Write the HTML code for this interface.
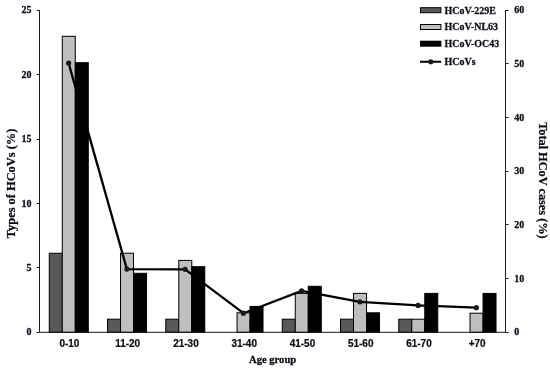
<!DOCTYPE html><html><head><meta charset="utf-8"><title>HCoVs by age group</title>
<style>html,body{margin:0;padding:0;background:#fff}svg{display:block}.s{font-family:"Liberation Serif",serif;font-weight:bold;fill:#0a0a14;stroke:#0a0a14;stroke-width:.25px}.a{font-family:"Liberation Sans",sans-serif;font-weight:bold;fill:#0a0a14;stroke:#0a0a14;stroke-width:.2px}</style></head><body>
<svg width="550" height="373" viewBox="0 0 550 373">
<rect width="550" height="373" fill="#fff"/>
<rect x="49.27" y="253.25" width="13.00" height="79.05" fill="#595959" stroke="#000" stroke-width="1"/>
<rect x="62.27" y="36.30" width="13.00" height="296.00" fill="#bfbfbf" stroke="#000" stroke-width="1"/>
<rect x="75.28" y="62.70" width="13.00" height="269.60" fill="#000" stroke="#000" stroke-width="1"/>
<rect x="107.53" y="319.20" width="13.00" height="13.10" fill="#595959" stroke="#000" stroke-width="1"/>
<rect x="120.53" y="253.20" width="13.00" height="79.10" fill="#bfbfbf" stroke="#000" stroke-width="1"/>
<rect x="133.53" y="273.30" width="13.00" height="59.00" fill="#000" stroke="#000" stroke-width="1"/>
<rect x="165.78" y="319.20" width="13.00" height="13.10" fill="#595959" stroke="#000" stroke-width="1"/>
<rect x="178.78" y="260.40" width="13.00" height="71.90" fill="#bfbfbf" stroke="#000" stroke-width="1"/>
<rect x="191.78" y="266.70" width="13.00" height="65.60" fill="#000" stroke="#000" stroke-width="1"/>
<rect x="237.03" y="312.80" width="13.00" height="19.50" fill="#bfbfbf" stroke="#000" stroke-width="1"/>
<rect x="250.03" y="306.40" width="13.00" height="25.90" fill="#000" stroke="#000" stroke-width="1"/>
<rect x="282.27" y="319.20" width="13.00" height="13.10" fill="#595959" stroke="#000" stroke-width="1"/>
<rect x="295.27" y="293.40" width="13.00" height="38.90" fill="#bfbfbf" stroke="#000" stroke-width="1"/>
<rect x="308.27" y="286.30" width="13.00" height="46.00" fill="#000" stroke="#000" stroke-width="1"/>
<rect x="340.52" y="319.20" width="13.00" height="13.10" fill="#595959" stroke="#000" stroke-width="1"/>
<rect x="353.52" y="293.40" width="13.00" height="38.90" fill="#bfbfbf" stroke="#000" stroke-width="1"/>
<rect x="366.52" y="312.80" width="13.00" height="19.50" fill="#000" stroke="#000" stroke-width="1"/>
<rect x="398.77" y="319.20" width="13.00" height="13.10" fill="#595959" stroke="#000" stroke-width="1"/>
<rect x="411.77" y="319.20" width="13.00" height="13.10" fill="#bfbfbf" stroke="#000" stroke-width="1"/>
<rect x="424.77" y="293.40" width="13.00" height="38.90" fill="#000" stroke="#000" stroke-width="1"/>
<rect x="470.02" y="313.20" width="13.00" height="19.10" fill="#bfbfbf" stroke="#000" stroke-width="1"/>
<rect x="483.02" y="293.40" width="13.00" height="38.90" fill="#000" stroke="#000" stroke-width="1"/>
<g stroke="#1a1a1a" stroke-width="1" fill="none">
<path d="M39.5 10.3V332.3H505.5V10.3"/>
<path d="M36.7 332.5H39.5"/>
<path d="M36.7 267.5H39.5"/>
<path d="M36.7 203.5H39.5"/>
<path d="M36.7 139.5H39.5"/>
<path d="M36.7 74.5H39.5"/>
<path d="M36.7 10.5H39.5"/>
<path d="M505.5 332.5H508.5"/>
<path d="M505.5 278.5H508.5"/>
<path d="M505.5 224.5H508.5"/>
<path d="M505.5 171.5H508.5"/>
<path d="M505.5 117.5H508.5"/>
<path d="M505.5 63.5H508.5"/>
<path d="M505.5 10.5H508.5"/>
</g>
<polyline fill="none" stroke="#000" stroke-width="2.3" stroke-linejoin="round" points="68.62,63.10 126.88,269.10 185.12,269.30 243.38,313.20 301.62,290.90 359.88,301.80 418.12,305.40 476.38,307.70"/>
<circle cx="68.62" cy="63.10" r="2.6" fill="#1a1a1a"/>
<circle cx="126.88" cy="269.10" r="2.6" fill="#1a1a1a"/>
<circle cx="185.12" cy="269.30" r="2.6" fill="#1a1a1a"/>
<circle cx="243.38" cy="313.20" r="2.6" fill="#1a1a1a"/>
<circle cx="301.62" cy="290.90" r="2.6" fill="#1a1a1a"/>
<circle cx="359.88" cy="301.80" r="2.6" fill="#1a1a1a"/>
<circle cx="418.12" cy="305.40" r="2.6" fill="#1a1a1a"/>
<circle cx="476.38" cy="307.70" r="2.6" fill="#1a1a1a"/>
<text class="s" transform="translate(31.40 335.30) scale(1 1.13)" font-size="10" text-anchor="end">0</text>
<text class="s" transform="translate(31.40 270.90) scale(1 1.13)" font-size="10" text-anchor="end">5</text>
<text class="s" transform="translate(31.40 206.50) scale(1 1.13)" font-size="10" text-anchor="end">10</text>
<text class="s" transform="translate(31.40 142.10) scale(1 1.13)" font-size="10" text-anchor="end">15</text>
<text class="s" transform="translate(31.40 77.70) scale(1 1.13)" font-size="10" text-anchor="end">20</text>
<text class="s" transform="translate(31.40 13.30) scale(1 1.13)" font-size="10" text-anchor="end">25</text>
<text class="s" transform="translate(514.20 335.20) scale(1 1.13)" font-size="10" text-anchor="start">0</text>
<text class="s" transform="translate(514.20 281.53) scale(1 1.13)" font-size="10" text-anchor="start">10</text>
<text class="s" transform="translate(514.20 227.87) scale(1 1.13)" font-size="10" text-anchor="start">20</text>
<text class="s" transform="translate(514.20 174.20) scale(1 1.13)" font-size="10" text-anchor="start">30</text>
<text class="s" transform="translate(514.20 120.53) scale(1 1.13)" font-size="10" text-anchor="start">40</text>
<text class="s" transform="translate(514.20 66.87) scale(1 1.13)" font-size="10" text-anchor="start">50</text>
<text class="s" transform="translate(514.20 13.20) scale(1 1.13)" font-size="10" text-anchor="start">60</text>
<text class="a" transform="translate(69.42 347.40) scale(1 1.12)" font-size="10" text-anchor="middle">0-10</text>
<text class="a" transform="translate(127.67 347.40) scale(1 1.12)" font-size="10" text-anchor="middle">11-20</text>
<text class="a" transform="translate(185.93 347.40) scale(1 1.12)" font-size="10" text-anchor="middle">21-30</text>
<text class="a" transform="translate(244.18 347.40) scale(1 1.12)" font-size="10" text-anchor="middle">31-40</text>
<text class="a" transform="translate(302.43 347.40) scale(1 1.12)" font-size="10" text-anchor="middle">41-50</text>
<text class="a" transform="translate(360.68 347.40) scale(1 1.12)" font-size="10" text-anchor="middle">51-60</text>
<text class="a" transform="translate(418.93 347.40) scale(1 1.12)" font-size="10" text-anchor="middle">61-70</text>
<text class="a" transform="translate(477.18 347.40) scale(1 1.12)" font-size="10" text-anchor="middle">+70</text>
<text class="s" transform="translate(272.60 362.60) scale(1 1.04)" font-size="10.6" text-anchor="middle">Age group</text>
<text class="s" transform="translate(14.60 183.50) rotate(-90) scale(1 1.0)" font-size="12.4" text-anchor="middle">Types of HCoVs (%)</text>
<text class="s" transform="translate(538.50 180.40) rotate(90) scale(1 1.0)" font-size="12.3" text-anchor="middle">Total HCoV cases (%)</text>
<rect x="420.5" y="7.699999999999999" width="20.4" height="5" fill="#595959" stroke="#000" stroke-width="1"/>
<rect x="420.5" y="24.5" width="20.4" height="5" fill="#bfbfbf" stroke="#000" stroke-width="1"/>
<rect x="420" y="40.7" width="21.4" height="6" fill="#000"/>
<path d="M420 61.75H441.2" stroke="#000" stroke-width="2"/><circle cx="430.8" cy="61.75" r="2.6" fill="#1a1a1a"/>
<text class="s" transform="translate(444.50 13.60) scale(1 1.09)" font-size="10" text-anchor="start">HCoV-229E</text>
<text class="s" transform="translate(444.50 30.40) scale(1 1.09)" font-size="10" text-anchor="start">HCoV-NL63</text>
<text class="s" transform="translate(444.50 47.10) scale(1 1.09)" font-size="10" text-anchor="start">HCoV-OC43</text>
<text class="s" transform="translate(444.50 65.00) scale(1 1.09)" font-size="10" text-anchor="start">HCoVs</text>
</svg></body></html>
